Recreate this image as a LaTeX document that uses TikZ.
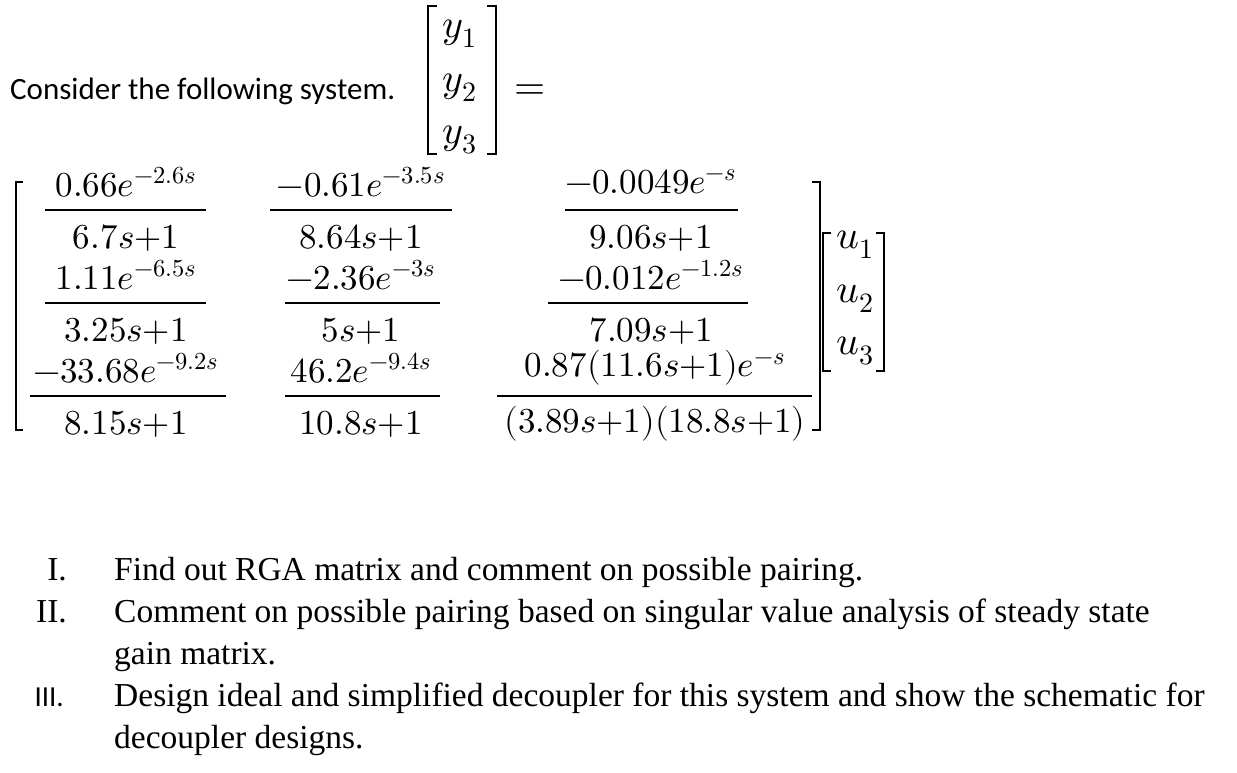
\documentclass[tikz,border=0pt]{standalone}
\usepackage{fontspec}
\usepackage{unicode-math}
\setmainfont{Liberation Serif}
\setmathfont{Latin Modern Math}
\newfontfamily\calfont{Carlito}
\begin{document}
\begin{tikzpicture}[x=1pt,y=-1pt,
  m/.style={font=\fontsize{35}{38}\selectfont,inner sep=0},
  v/.style={font=\fontsize{40}{42}\selectfont,inner sep=0},
  t/.style={font=\fontsize{33.5}{36}\selectfont,inner sep=0,anchor=base west},
  br/.style={line width=1.8pt}]
\useasboundingbox (0,0) rectangle (1237,773);
\node[inner sep=0,anchor=base west,font=\calfont\fontsize{31}{34}\selectfont] (c) at (10,100) {Consider the following system.};
% y vector
\draw[br] (437,6)--(428,6)--(428,154)--(437,154);
\draw[br] (487,6)--(496,6)--(496,154)--(487,154);
\node[v] (y1) at (460,34) {$y_1$};
\node[v] (y2) at (460,88) {$y_2$};
\node[v] (y3) at (460,140) {$y_3$};
\node[v] (eq) at (530,92) {$=$};
% matrix brackets
\draw[br] (23,182)--(16,182)--(16,430)--(23,430);
\draw[br] (812,182)--(820,182)--(820,430)--(812,430);
% fractions
\foreach \n/\x/\yy/\a/\b/\num/\den in {
 a/126/0/45/206/{0.66e^{-2.6s}}/{6.7s{+}1},
 b/361/0/270/452/{-0.61e^{-3.5s}}/{8.64s{+}1},
 c/651/0/565/738/{-0.0049e^{-s}}/{9.06s{+}1},
 d/126/1/45/206/{1.11e^{-6.5s}}/{3.25s{+}1},
 e/361/1/285/440/{-2.36e^{-3s}}/{5s{+}1},
 f/651/1/548/748/{-0.012e^{-1.2s}}/{7.09s{+}1},
 g/126/2/30/226/{-33.68e^{-9.2s}}/{8.15s{+}1},
 h/361/2/285/440/{46.2e^{-9.4s}}/{10.8s{+}1},
 i/655/2/497/812/{0.87(11.6s{+}1)e^{-s}}/{(3.89s{+}1)(18.8s{+}1)}}{
  \pgfmathsetmacro\yb{210+\yy*93}
  \node[m] (\n n) at (\x,\yb-28) {$\num$};
  \draw[line width=1.6pt] (\a,\yb)--(\b,\yb);
  \node[m] (\n d) at (\x,\yb+28) {$\den$};
}
% u vector
\draw[br] (831,233)--(823,233)--(823,371)--(831,371);
\draw[br] (876,233)--(884,233)--(884,371)--(876,371);
\node[v] (u1) at (855,245) {$u_1$};
\node[v] (u2) at (855,299) {$u_2$};
\node[v] (u3) at (855,351) {$u_3$};
% list
\node[t,anchor=base east] (i1) at (67,580) {I.};
\node[t,anchor=base east] (i2) at (67,622) {II.};
\node[t,anchor=base east,font=\calfont\fontsize{29}{32}\selectfont] (i3) at (64,706) {III.};
\node[t] (l1) at (114,580) {Find out RGA matrix and comment on possible pairing.};
\node[t] (l2) at (114,622) {Comment on possible pairing based on singular value analysis of steady state};
\node[t] (l2b) at (114,664) {gain matrix.};
\node[t] (l3) at (114,706) {Design ideal and simplified decoupler for this system and show the schematic for};
\node[t] (l3b) at (114,748) {decoupler designs.};
\end{tikzpicture}
\end{document}
